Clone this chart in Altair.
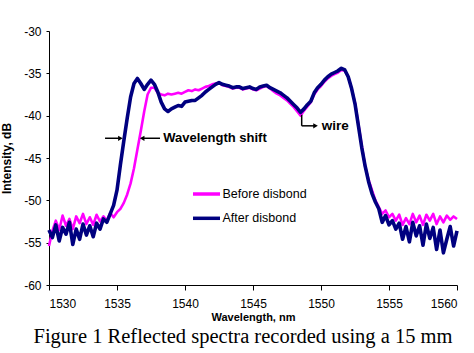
import altair as alt
import pandas as pd

wavelength = [1530 + 0.25 * i for i in range(121)]

after_db = [
    -53.5, -54.4, -52.9, -54.8, -53.2, -54.0, -52.6, -55.2, -53.4, -54.6,
    -52.8, -54.1, -53.0, -54.3, -52.7, -53.4, -52.2, -52.6, -51.6, -50.6,
    -48.8, -45.8, -43.0, -40.3, -37.8, -36.2, -35.6, -36.2, -36.9, -36.3,
    -35.8, -36.3, -37.2, -38.4, -39.2, -39.5, -39.2, -39.0, -38.8, -38.9,
    -38.4, -38.3, -38.2, -38.2, -37.9, -37.6, -37.2, -36.9, -36.6, -36.3,
    -36.1, -36.3, -36.4, -36.5, -36.7, -36.6, -36.6, -36.8, -36.7, -36.6,
    -36.8, -36.9, -36.6, -36.5, -36.4, -36.7, -36.9, -37.1, -37.3, -37.6,
    -37.9, -38.3, -38.7, -39.1, -39.6, -39.2, -38.7, -38.3, -37.3, -36.7,
    -36.3, -35.8, -35.4, -35.1, -34.9, -34.7, -34.4, -34.6, -35.4, -36.8,
    -38.6, -41.2, -43.8, -46.0, -47.8, -49.2, -50.2, -51.0, -52.6, -51.8,
    -52.9, -52.4, -53.4, -52.7, -54.6, -53.1, -54.9, -52.6, -54.2, -53.0,
    -55.3, -52.8, -54.5, -53.2, -55.8, -53.5, -56.2, -54.6, -53.1, -55.4,
    -53.6,
]

before_db = [
    -55.4, -53.6, -52.4, -53.5, -51.8, -53.0, -52.2, -53.4, -51.9, -52.7,
    -51.6, -52.8, -52.0, -52.9, -51.7, -52.5, -51.9, -52.4, -51.5, -52.0,
    -51.4, -51.0, -50.3, -49.3, -48.0, -46.2, -44.0, -41.8, -39.5, -37.5,
    -36.7, -36.7, -37.3, -37.5, -37.6, -37.4, -37.5, -37.4, -37.3, -37.4,
    -37.2, -37.0, -37.1, -36.9, -37.0, -36.8, -36.6, -36.5, -36.3, -36.2,
    -36.1, -36.4, -36.5, -36.6, -36.8, -36.7, -36.7, -36.9, -36.8, -36.7,
    -36.9, -37.0, -36.8, -36.6, -36.5, -36.8, -37.1, -37.4, -37.6, -37.9,
    -38.2, -38.6, -39.0, -39.5, -40.0, -39.4, -38.9, -38.4, -37.5, -36.9,
    -36.5, -36.0, -35.6, -35.3, -35.1, -34.9, -34.6, -34.7, -35.4, -36.8,
    -38.5, -41.0, -43.6, -46.0, -47.6, -48.8, -50.0, -50.8, -51.6, -51.2,
    -52.0, -51.6, -52.4, -51.7, -52.9, -52.1, -52.8, -51.6, -52.6, -51.8,
    -52.9, -51.7, -52.4, -51.6, -52.8, -51.9, -52.6, -51.8, -52.3, -51.9,
    -52.2,
]

y_ticks = [-60, -55, -50, -45, -40, -35, -30]
x_ticks = [1530, 1535, 1540, 1545, 1550, 1555, 1560]

FONT = "Liberation Sans"

df_before = pd.DataFrame({"wl": wavelength, "db": before_db})
df_after = pd.DataFrame({"wl": wavelength, "db": after_db})

xs = alt.Scale(domain=[1530, 1560], nice=False, zero=False)
ys = alt.Scale(domain=[-60, -30], nice=False, zero=False)

x_enc = alt.X("wl:Q", scale=xs, axis=alt.Axis(
    values=x_ticks, title="Wavelength, nm", grid=False, labelExpr="'' + datum.value",
    tickSize=5, labelPadding=8, titlePadding=2,
    titleFontSize=11, titleFontWeight="bold", titleFont=FONT,
    labelFont=FONT, labelFontSize=12, labelColor="black", titleColor="black",
    domainColor="black", tickColor="black"))
y_enc = alt.Y("db:Q", scale=ys, axis=alt.Axis(
    values=y_ticks, title="Intensity, dB", grid=False, labelExpr="'' + datum.value",
    tickSize=3, labelPadding=5,
    titleFontSize=12, titleFontWeight="bold", titleFont=FONT,
    titleX=-36, titleY=127, titleAngle=-90, titleAlign="center", titleBaseline="bottom",
    labelFont=FONT, labelFontSize=12, labelColor="black", titleColor="black",
    domainColor="black", tickColor="black"))

before_line = alt.Chart(df_before).mark_line(
    color="#FF00FF", strokeWidth=2.6, strokeJoin="round").encode(x=x_enc, y=y_enc)
after_line = alt.Chart(df_after).mark_line(
    color="#000080", strokeWidth=3.6, strokeJoin="round").encode(x="wl:Q", y="db:Q")

# annotations (data coordinates)
ann_rules = pd.DataFrame({
    "x": [1534.12, 1536.82, 1548.58, 1548.58],
    "x2": [1535.2, 1538.16, 1548.58, 1549.55],
    "y": [-42.67, -42.67, -39.9, -41.2],
    "y2": [-42.67, -42.67, -41.2, -41.2],
})
rules = alt.Chart(ann_rules).mark_rule(color="black", strokeWidth=1.5).encode(
    x="x:Q", x2="x2:Q", y="y:Q", y2="y2:Q")

heads = pd.DataFrame({
    "x": [1535.25, 1536.85, 1549.6],
    "y": [-42.67, -42.67, -41.2],
    "shape": ["triangle-right", "triangle-left", "triangle-right"],
})
arrowheads = alt.Chart(heads).mark_point(filled=True, color="black", size=28, opacity=1).encode(
    x="x:Q", y="y:Q", shape=alt.Shape("shape:N", scale=None))

labels = pd.DataFrame({
    "x": [1538.4, 1550.05],
    "y": [-42.67, -41.2],
    "t": ["Wavelength shift", "wire"],
    "fs": [13, 13.5],
})
ann_text = alt.Chart(labels).mark_text(
    align="left", baseline="middle", font=FONT, fontWeight="bold",
    color="black").encode(x="x:Q", y="y:Q", text="t:N", size=alt.Size("fs:Q", scale=None))

# legend
leg_names = ["Before disbond", "After disbond"]
leg = pd.DataFrame({"name": leg_names, "py": [163, 187.3]})
leg_lines = alt.Chart(leg).mark_rule(strokeWidth=3.5).encode(
    x=alt.value(144), x2=alt.value(171), y=alt.Y("py:Q", scale=None),
    color=alt.Color("name:N", scale=alt.Scale(domain=leg_names, range=["#FF00FF", "#000080"]), legend=None))
leg_text = alt.Chart(leg).mark_text(
    align="left", baseline="middle", font=FONT, fontSize=12.5, color="black").encode(
    x=alt.value(173.5), y=alt.Y("py:Q", scale=None), text="name:N")

caption = alt.Chart(pd.DataFrame({"t": ["Figure 1 Reflected spectra recorded using a 15 mm"]})).mark_text(
    align="center", baseline="alphabetic", font="Liberation Serif", fontSize=20.5, color="black").encode(
    x=alt.value(194), y=alt.value(312), text="t:N")

chart = alt.layer(before_line, after_line, rules, arrowheads, ann_text, leg_lines, leg_text, caption).properties(
    width=408, height=254,
    padding={"left": 49, "top": 31, "right": 17, "bottom": 68},
    autosize=alt.AutoSizeParams(type="none"),
    background="white",
).configure_view(stroke=None)

chart.save("out.html", embed_options={"renderer": "svg", "actions": False})
